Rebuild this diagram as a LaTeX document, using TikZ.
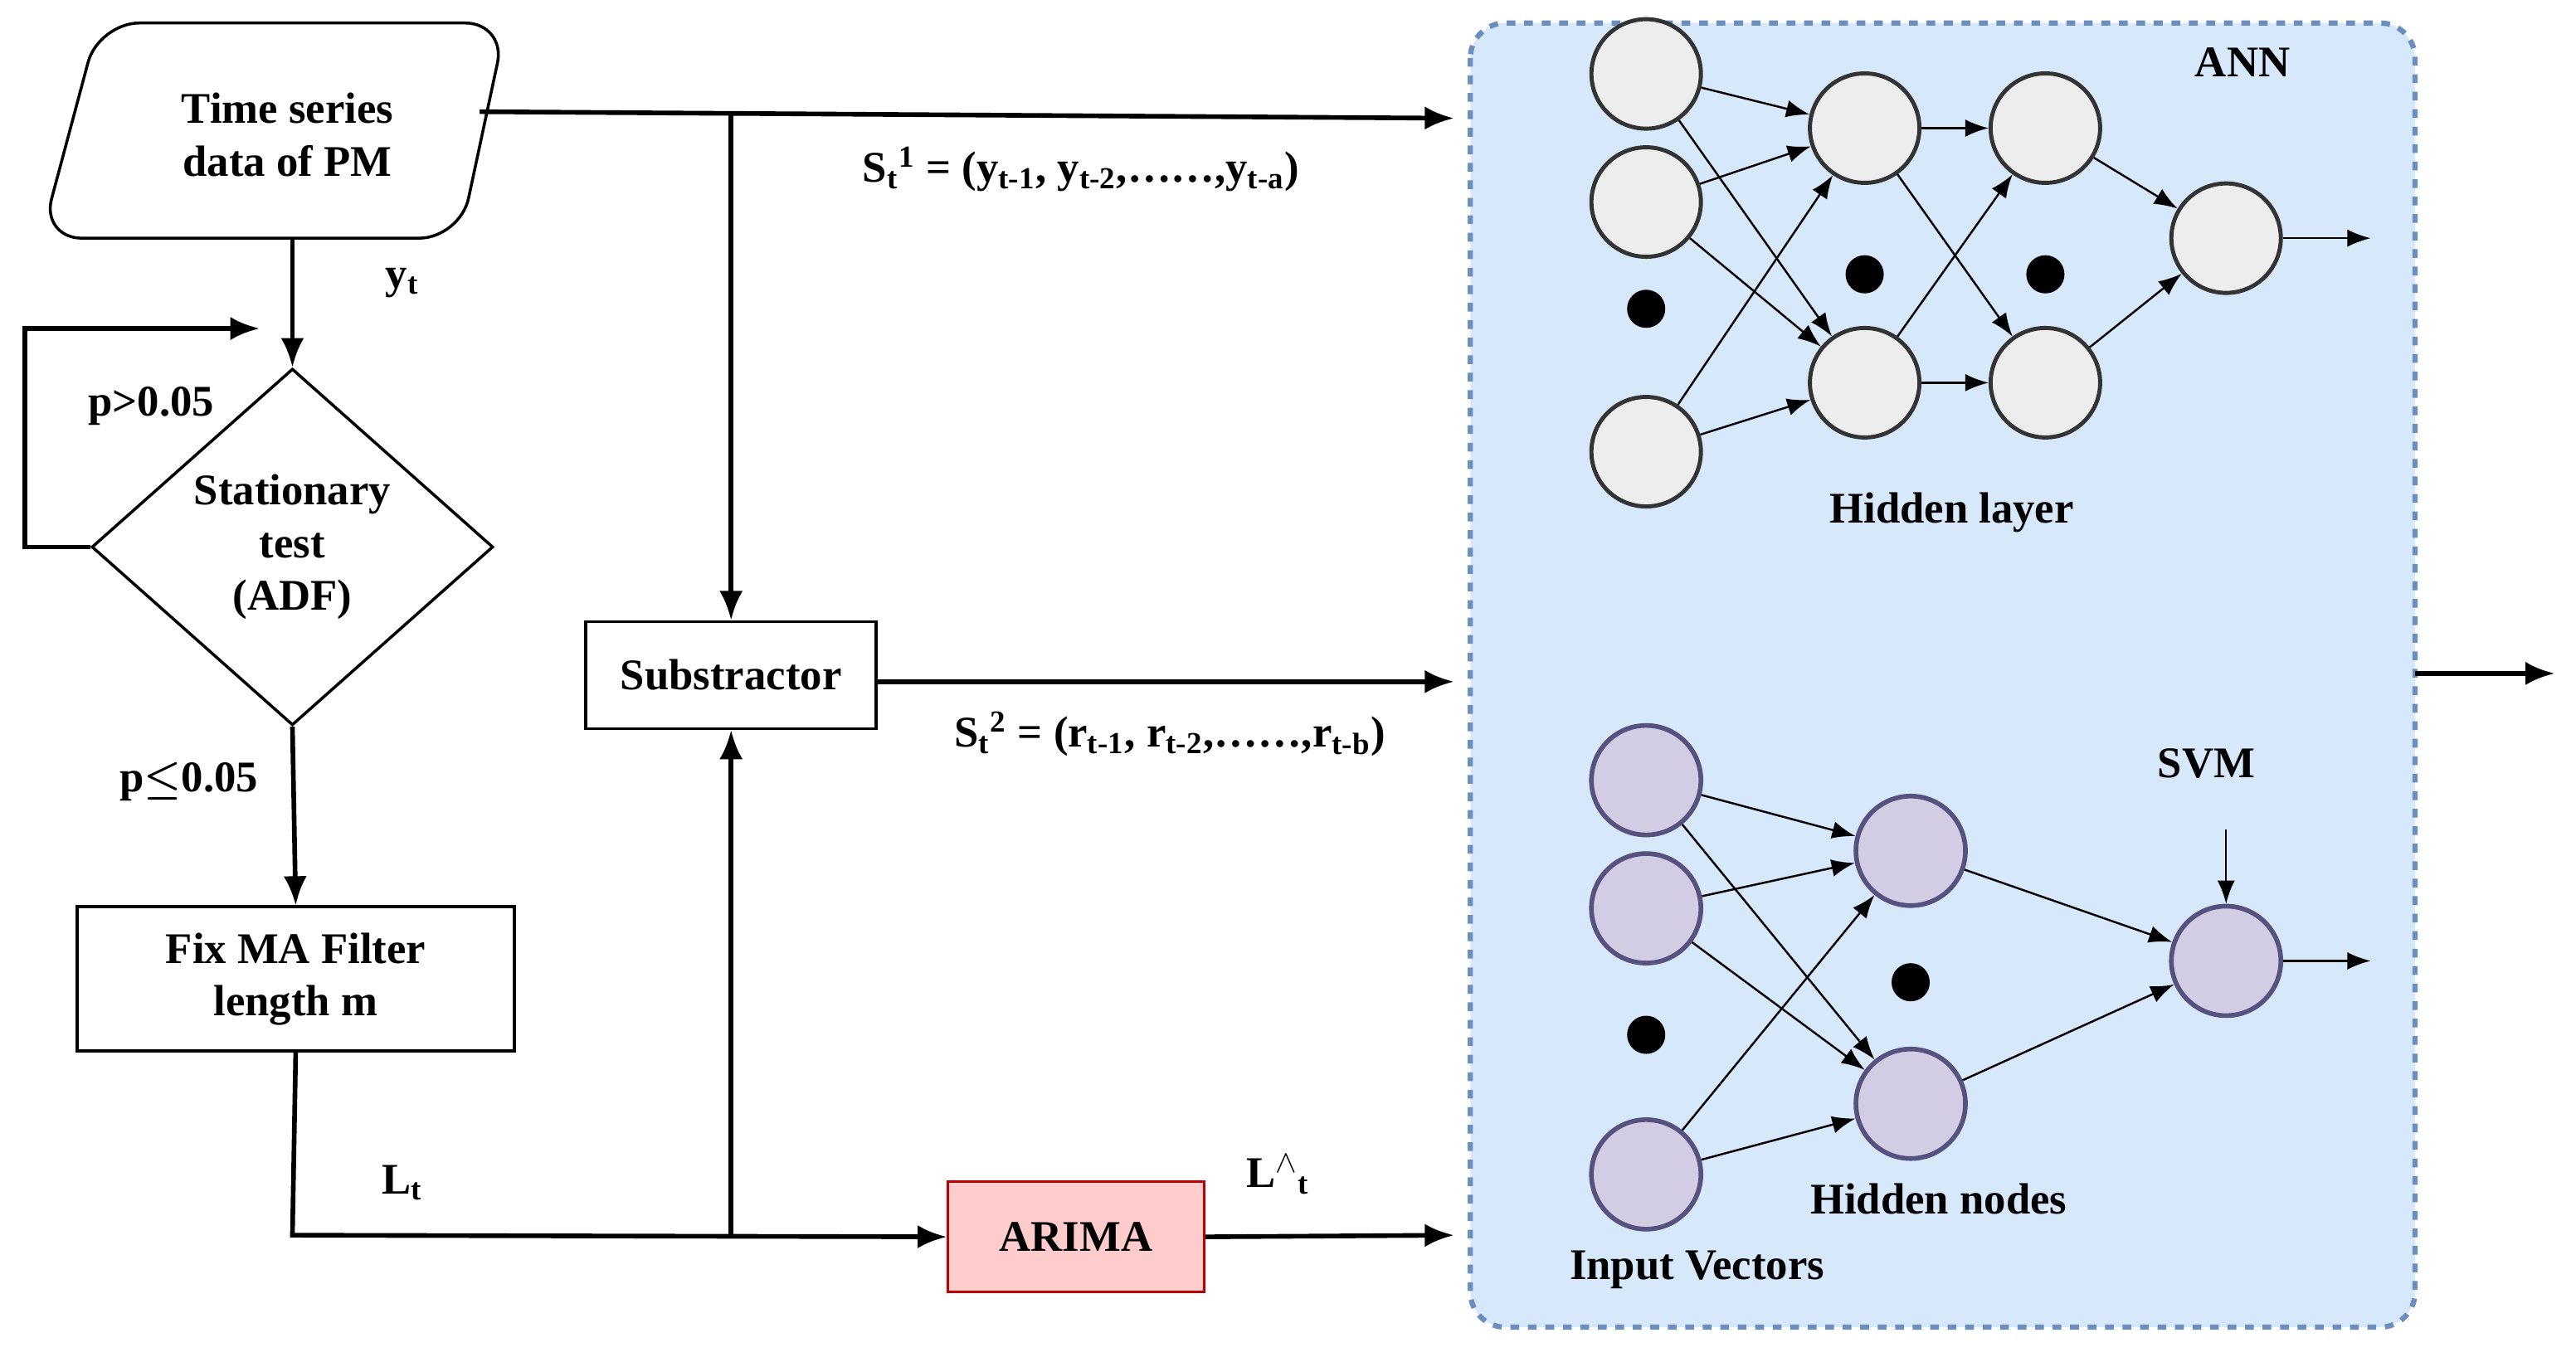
\documentclass[tikz,border=0pt]{standalone}
\usepackage{amsmath, amssymb}
\usepackage{fontspec}
\setmainfont{Liberation Serif}
\usetikzlibrary{arrows.meta, shapes.geometric}
\definecolor{panelfill}{HTML}{D6E8FA}
\definecolor{paneldraw}{HTML}{6C8EBF}
\definecolor{svmfill}{HTML}{D2CDE4}
\definecolor{svmdraw}{HTML}{56517E}
\tikzset{
  txt/.style={font=\fontsize{15}{18}\selectfont\bfseries, align=center},
  box/.style={draw, line width=1pt, fill=white, txt, inner sep=0pt},
  arr/.style={-{Latex[length=10pt,width=8pt]}, line width=1.6pt},
  lnk/.style={-{Latex[length=8pt,width=6pt]}, line width=0.7pt},
  annc/.style={circle, draw=black!80, line width=1.4pt, fill=black!7, minimum size=1.32cm, inner sep=0pt},
  svmc/.style={circle, draw=svmdraw, line width=1.6pt, fill=svmfill, minimum size=1.32cm, inner sep=0pt},
  dotn/.style={circle, fill=black, minimum size=0.46cm, inner sep=0pt}
}
\begin{document}
\begin{tikzpicture}[x=0.0198cm, y=-0.0198cm]
		\useasboundingbox (0,0) rectangle (1568,826);
		% model panel
		\draw[dashed, line width=1.8pt, draw=paneldraw, fill=panelfill, rounded corners=12pt] (895,14) rectangle (1470,808);
		% input data
		\draw[line width=1pt, fill=white, rounded corners=14pt] (60,14) -- (308,14) -- (280,145) -- (25,145) -- cycle;
		\node[txt] (data) at (175,82) {Time series\\data of PM};
		\coordinate (dR) at (292,68);
		\coordinate (dB) at (178,145);
		% stationary test
		\node[draw, line width=1pt, diamond, aspect=1.12, minimum width=4.84cm, minimum height=4.3cm, inner sep=0pt] (adf) at (178,333) {};
		\node[txt] at (178,333) {Stationary\\test\\(ADF)};
		\node[box, minimum width=5.27cm, minimum height=1.74cm] (fix) at (180,596) {Fix MA Filter\\length m};
		\node[box, minimum width=3.5cm, minimum height=1.29cm] (sub) at (445,411) {Substractor};
		\node[box, draw=red!75!black, fill=red!20, minimum width=3.09cm, minimum height=1.33cm, line width=0.8pt] (arima) at (655,753) {ARIMA};
		\coordinate (j1) at (445,70);
		\coordinate (j2) at (445,752);
		\coordinate (loopL) at (15,333);
		\coordinate (loopT) at (15,200);
		\coordinate (loopE) at (158,200);
		\coordinate (fixB) at (178,752);
		\coordinate (in1) at (885,72);
		\coordinate (in2) at (885,415);
		\coordinate (in3) at (885,752);
		\coordinate (out) at (1555,410);
		\draw[arr] (dB) -- (adf.north);
		\draw[arr] (adf.west) -- (loopL) -- (loopT) -- (loopE);
		\draw[arr] (adf.south) -- (fix.north);
		\draw[arr] (fix.south) -- (fixB) -- (arima.west);
		\draw[arr] (j2) -- (sub.south);
		\draw[arr] (dR) -- (in1);
		\draw[arr] (j1) -- (sub.north);
		\draw[arr] (sub.east |- in2) -- (in2);
		\draw[arr] (arima.east) -- (in3);
		\draw[arr] (1470,410) -- (out);
		\node[txt] at (245,172) {y$_\text{t}$};
		\node[txt] at (92,247) {p>0.05};
		\node[txt] at (115,476) {p$\boldsymbol{\leq}$0.05};
		\node[txt] at (245,720) {L$_\text{t}$};
		\node[txt] at (778,715) {L$^{\wedge}{}_\text{t}$};
		\node[txt] at (658,103) {S$_\text{t}{}^\text{1}$ = (y$_\text{t-1}$, y$_\text{t-2}$,\dots\dots,y$_\text{t-a}$)};
		\node[txt] at (712,447) {S$_\text{t}{}^\text{2}$ = (r$_\text{t-1}$, r$_\text{t-2}$,\dots\dots,r$_\text{t-b}$)};
		% ANN
		\node[annc] (a1) at (1002,45) {};
		\node[annc] (a2) at (1002,123) {};
		\node[annc] (a3) at (1002,275) {};
		\node[annc] (b1) at (1135,78) {};
		\node[annc] (b2) at (1135,233) {};
		\node[annc] (c1) at (1245,78) {};
		\node[annc] (c2) at (1245,233) {};
		\node[annc] (ao) at (1355,145) {};
		\node[dotn] at (1002,188) {};
		\node[dotn] at (1135,167) {};
		\node[dotn] at (1245,167) {};
		\foreach \i in {1,2,3} \foreach \j in {1,2} \draw[lnk] (a\i) -- (b\j);
		\foreach \i in {1,2} \foreach \j in {1,2} \draw[lnk] (b\i) -- (c\j);
		\foreach \i in {1,2} \draw[lnk] (c\i) -- (ao);
		\coordinate (aout) at (1443,145);
		\draw[lnk] (ao) -- (aout);
		\node[txt] at (1365,38) {ANN};
		\node[txt] at (1188,312) {Hidden layer};
		% SVM
		\node[svmc] (s1) at (1002,475) {};
		\node[svmc] (s2) at (1002,553) {};
		\node[svmc] (s3) at (1002,715) {};
		\node[svmc] (h1) at (1163,518) {};
		\node[svmc] (h2) at (1163,672) {};
		\node[svmc] (so) at (1355,585) {};
		\node[dotn] at (1002,630) {};
		\node[dotn] at (1163,598) {};
		\foreach \i in {1,2,3} \foreach \j in {1,2} \draw[lnk] (s\i) -- (h\j);
		\foreach \i in {1,2} \draw[lnk] (h\i) -- (so);
		\coordinate (sout) at (1443,585);
		\coordinate (stop) at (1355,505);
		\draw[lnk] (so) -- (sout);
		\draw[lnk] (stop) -- (so);
		\node[txt] at (1343,465) {SVM};
		\node[txt] at (1180,730) {Hidden nodes};
		\node[txt] at (1033,773) {Input Vectors};
\end{tikzpicture}
\end{document}
